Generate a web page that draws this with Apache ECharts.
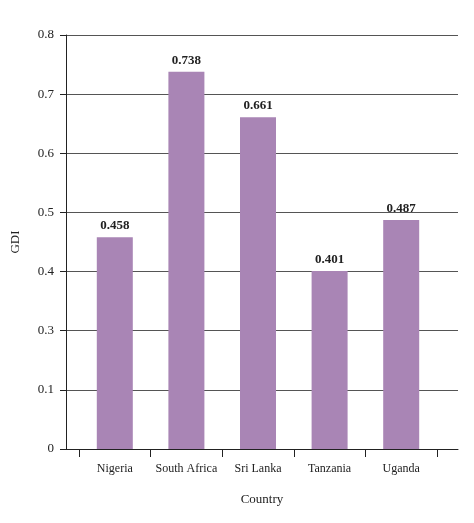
<!DOCTYPE html>
<html>
<head>
<meta charset="utf-8">
<script src="https://cdn.jsdelivr.net/npm/echarts@6/dist/echarts.min.js"></script>
<style>html,body{margin:0;padding:0;background:#fff}#main{width:474px;height:523px}</style>
</head>
<body>
<div id="main"></div>
<script>
var countries = ['Nigeria', 'South Africa', 'Sri Lanka', 'Tanzania', 'Uganda'];
var gdi = [0.458, 0.738, 0.661, 0.401, 0.487];
// the original axis skips 0.2: ticks are evenly spaced but labelled like this
var tickLabels = ['0', '0.1', '0.3', '0.4', '0.5', '0.6', '0.7', '0.8'];

// place a value on the (skipping) axis
function toAxis(v) { return v >= 0.3 ? v - 0.1 : v; }

var chart = echarts.init(document.getElementById('main'));
var font = 'Liberation Serif';
chart.setOption({
    animation: false,
    grid: [
        {left: 66, right: 16, top: 35, bottom: 74},   // frame with gridlines
        {left: 79, right: 37, top: 35, bottom: 74}    // bars
    ],
    xAxis: [{
        gridIndex: 0, type: 'value', min: 0, max: 1,
        axisLine: {show: true, lineStyle: {color: '#222'}},
        axisTick: {show: false}, axisLabel: {show: false}, splitLine: {show: false},
        name: 'Country', nameLocation: 'middle', nameGap: 44,
        nameTextStyle: {fontFamily: font, fontSize: 13, color: '#222'}
    }, {
        gridIndex: 1, type: 'category', data: countries,
        axisLine: {show: false},
        axisTick: {show: true, interval: 0, length: 8, lineStyle: {color: '#222'}},
        axisLabel: {interval: 0, fontFamily: font, fontSize: 12, color: '#222', margin: 14}
    }],
    yAxis: [{
        gridIndex: 0, type: 'value', min: 0, max: 0.7, interval: 0.1,
        name: 'GDI', nameLocation: 'middle', nameGap: 44,
        nameTextStyle: {fontFamily: font, fontSize: 13, color: '#222'},
        axisLine: {show: true, lineStyle: {color: '#222'}},
        axisTick: {show: true, length: 6, lineStyle: {color: '#222'}},
        splitLine: {lineStyle: {color: '#555'}},
        axisLabel: {
            fontFamily: font, fontSize: 13, color: '#222', margin: 12,
            formatter: function (v) { return tickLabels[Math.round(v * 10)]; }
        }
    }, {
        gridIndex: 1, type: 'value', min: 0, max: 0.7, interval: 0.1, show: false
    }],
    series: [{
        type: 'bar', xAxisIndex: 1, yAxisIndex: 1,
        barWidth: 36,
        data: gdi.map(function (v) { return {value: toAxis(v), real: v}; }),
        itemStyle: {color: '#a985b5'},
        label: {
            show: true, position: 'top', distance: 5,
            fontFamily: font, fontSize: 13, fontWeight: 'bold', color: '#222',
            formatter: function (p) { return p.data.real.toFixed(3); }
        }
    }]
});
</script>
</body>
</html>
